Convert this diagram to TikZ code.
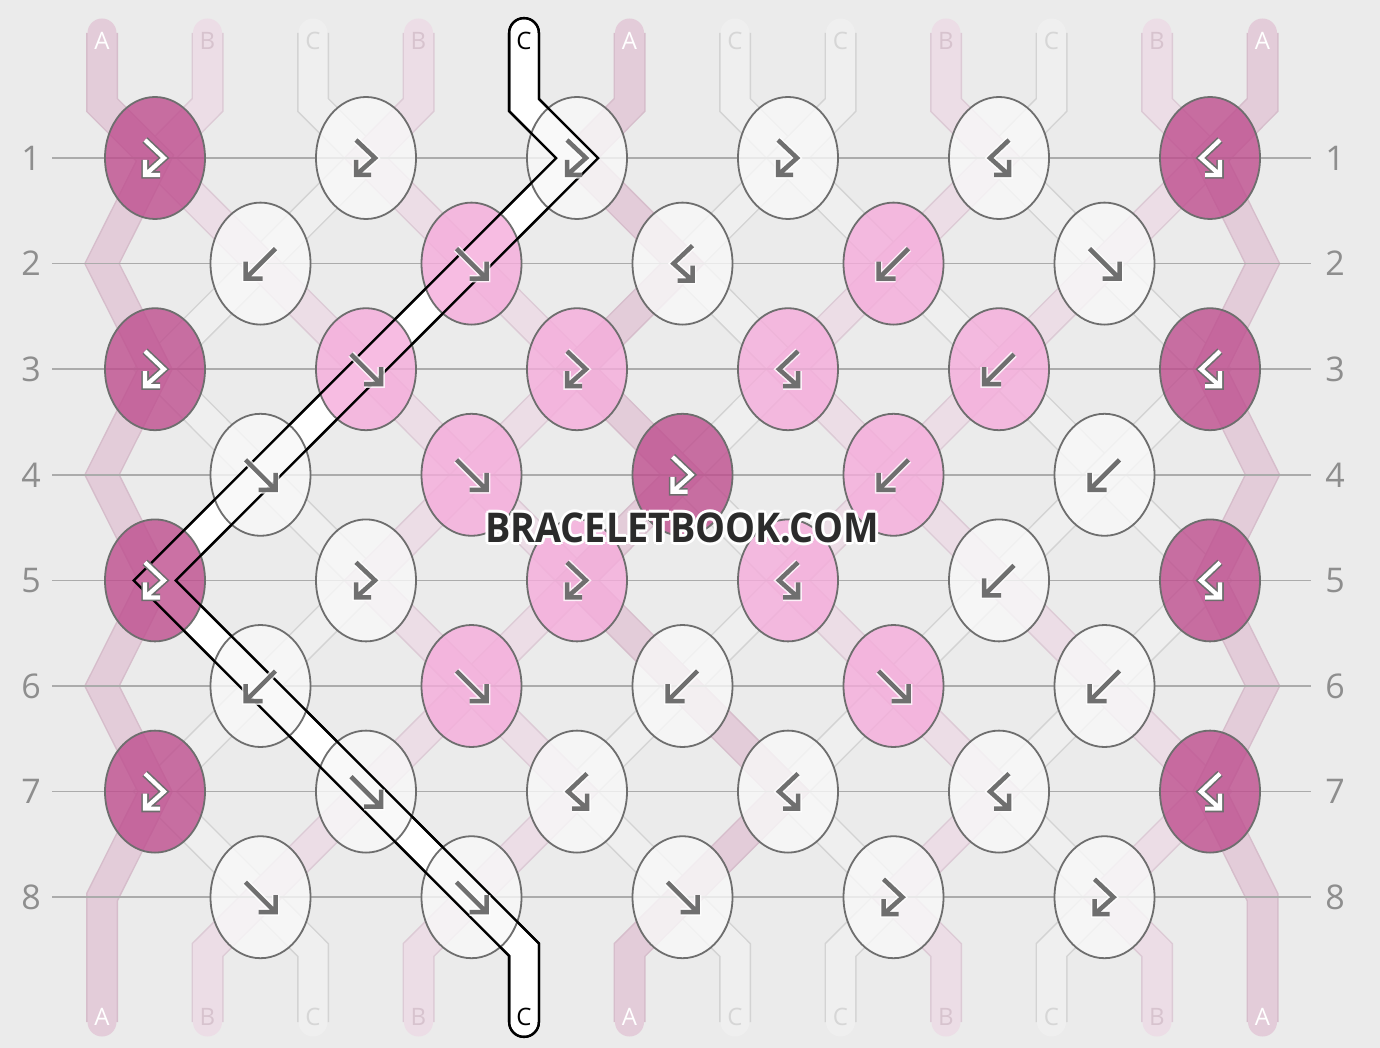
\documentclass[tikz,border=0pt]{standalone}
\usepackage{fontspec}
\setmainfont{Open Sans}
\usetikzlibrary{shapes.geometric}
\definecolor{bgc}{HTML}{EBEBEB}
\definecolor{Afill}{HTML}{E3CCD9}
\definecolor{Aline}{HTML}{D6BDCB}
\definecolor{Bfill}{HTML}{ECDDE6}
\definecolor{Bline}{HTML}{DCCAD5}
\definecolor{Cfill}{HTML}{EFEFEF}
\definecolor{Cline}{HTML}{D3D3D3}
\definecolor{kA}{HTML}{BE4E8E}
\definecolor{kB}{HTML}{F5ACDB}
\definecolor{kC}{HTML}{F8F8F8}
\definecolor{kline}{HTML}{6E6E6E}
\definecolor{arr}{HTML}{6F6F6F}
\definecolor{rowc}{HTML}{ABABAB}
\definecolor{numc}{HTML}{8E8E8E}
\definecolor{Blab}{HTML}{D7C3CE}
\definecolor{Clab}{HTML}{D6D6D6}
\definecolor{wmc}{HTML}{2B2B2B}
\newcommand\arFW[1]{\draw[#1] (-15,-15)--(15,15) (15,-2)--(15,15)--(-2,15);}
\newcommand\arBW[1]{\draw[#1] (15,-15)--(-15,15) (-15,-2)--(-15,15)--(2,15);}
\newcommand\arFB[1]{\draw[#1] (-10,-18)--(9,0)--(-10,17) (-10,2)--(-10,17)--(5,17);}
\newcommand\arBF[1]{\draw[#1] (10,-18)--(-9,0)--(10,17) (10,2)--(10,17)--(-5,17);}
% outline of the highlighted strand
\newcommand\hlpath{(509.1,1022) -- (509.1,955.87) -- (133.68,580.45) -- (556.03,158.1) -- (509.1,111.17) -- (509.1,33) arc[start angle=180,end angle=360,radius=14.9] -- (538.9,98.8) -- (598.17,158.1) -- (175.82,580.45) -- (538.9,943.5) -- (538.9,1022) arc[start angle=0,end angle=180,radius=14.9] -- cycle}
\tikzset{
 strA/.style={draw=Afill,line width=29pt,line join=miter,line cap=round,preaction={draw=Aline,line width=32pt}},
 strB/.style={draw=Bfill,line width=29pt,line join=miter,line cap=round,preaction={draw=Bline,line width=32pt}},
 strC/.style={draw=Cfill,line width=29pt,line join=miter,line cap=round,preaction={draw=Cline,line width=32pt}},
 hledge/.style={draw=black,line width=2.3pt,line join=miter},
 knot/.style={ellipse,minimum width=100pt,minimum height=122pt,inner sep=0pt,draw=kline,line width=1.8pt,fill opacity=0.8},
 arrowpen/.style={draw=arr,line width=4.5pt,line cap=butt,line join=miter},
 arrowlhalo/.style={draw=white,draw opacity=0.8,line width=7.5pt,line cap=square,line join=miter},
 arrowhalo/.style={draw=kline,line width=7.5pt,line cap=square,line join=miter},
 arrowwhite/.style={draw=white,line width=4.2pt,line cap=butt,line join=miter},
 rowline/.style={draw=rowc,line width=1.5pt},
 num/.style={text=numc,font=\fontsize{34pt}{34pt}\selectfont,inner sep=0pt},
 lab/.style={font=\fontsize{24pt}{24pt}\selectfont,inner sep=0pt},
 wm/.style={font=\fontsize{41pt}{41pt}\selectfont\bfseries,inner sep=0pt,xscale=0.92}
}
\begin{document}
\begin{tikzpicture}[x=1pt,y=-1pt]
\fill[bgc] (0,0) rectangle (1380,1048);
\useasboundingbox (0,0) rectangle (1380,1048);
% coordinates
\foreach \r/\y in {1/158,3/369.2,5/580.4,7/791.6}{
  \foreach \c in {1,...,6}{\coordinate (k\r-\c) at ({155+211*(\c-1)},\y);}
}
\foreach \r/\y in {2/263.6,4/474.8,6/686,8/897.2}{
  \foreach \c in {1,...,5}{\coordinate (k\r-\c) at ({260.5+211*(\c-1)},\y);}
  \coordinate (L\r) at (102,\y);
  \coordinate (R\r) at (1262.5,\y);
}
\foreach \s in {0,...,11}{
  \coordinate (T\s) at ({102+105.5*\s},33);
  \coordinate (Tb\s) at ({102+105.5*\s},105);
  \coordinate (Bb\s) at ({102+105.5*\s},950);
  \coordinate (B\s) at ({102+105.5*\s},1022);
}
% strands
\draw[strC] (T2)--(Tb2)--(k1-2)--(k2-1)--(k3-1)--(k4-1)--(k5-2)--(k6-1)--(k7-1)--(k8-1)--(Bb2)--(B2);
\draw[strC] (T6)--(Tb6)--(k1-4)--(k2-3)--(k3-4)--(k4-3)--(k5-4)--(k6-3)--(k7-3)--(k8-3)--(Bb6)--(B6);
\draw[strC] (T7)--(Tb7)--(k1-4)--(k2-4)--(k3-5)--(k4-5)--(k5-6)--(k6-5)--(k7-5)--(k8-5)--(Bb9)--(B9);
\draw[strC] (T9)--(Tb9)--(k1-5)--(k2-5)--(k3-6)--(k4-5)--(k5-5)--(k6-4)--(k7-4)--(k8-4)--(Bb7)--(B7);
\draw[strB] (T1)--(Tb1)--(k1-1)--(k2-1)--(k3-2)--(k4-2)--(k5-3)--(k6-2)--(k7-2)--(k8-1)--(Bb1)--(B1);
\draw[strB] (T3)--(Tb3)--(k1-2)--(k2-2)--(k3-3)--(k4-2)--(k5-2)--(k6-2)--(k7-3)--(k8-2)--(Bb3)--(B3);
\draw[strB] (T8)--(Tb8)--(k1-5)--(k2-4)--(k3-4)--(k4-4)--(k5-5)--(k6-5)--(k7-6)--(k8-5)--(Bb10)--(B10);
\draw[strB] (T10)--(Tb10)--(k1-6)--(k2-5)--(k3-5)--(k4-4)--(k5-4)--(k6-4)--(k7-5)--(k8-4)--(Bb8)--(B8);
\draw[strA] (T0)--(Tb0)--(k1-1)--(L2)--(k3-1)--(L4)--(k5-1)--(L6)--(k7-1)--(L8)--(B0);
\draw[strA] (T5)--(Tb5)--(k1-3)--(k2-3)--(k3-3)--(k4-3)--(k5-3)--(k6-3)--(k7-4)--(k8-3)--(Bb5)--(B5);
\draw[strA] (T11)--(Tb11)--(k1-6)--(R2)--(k3-6)--(R4)--(k5-6)--(R6)--(k7-6)--(R8)--(B11);
% string labels
\foreach \s/\l/\c in {0/A/white,1/B/Blab,2/C/Clab,3/B/Blab,5/A/white,6/C/Clab,7/C/Clab,8/B/Blab,9/C/Clab,10/B/Blab,11/A/white}{
  \node[lab,text=\c] (lt\s) at ({102+105.5*\s},41) {\l};
}
\foreach \s/\l/\c in {0/A/white,1/B/Blab,2/C/Clab,3/B/Blab,5/A/white,6/C/Clab,7/C/Clab,8/B/Blab,9/C/Clab,10/B/Blab,11/A/white}{
  \node[lab,text=\c] (lb\s) at ({102+105.5*\s},1017) {\l};
}
% row lines and numbers
\foreach \r/\y in {1/158,2/263.6,3/369.2,4/474.8,5/580.4,6/686,7/791.6,8/897.2}{
  \draw[rowline] (52,\y) -- (1311,\y);
  \node[num] (nl\r) at (31,\y) {\r};
  \node[num] (nr\r) at (1335,\y) {\r};
}
% highlighted strand (filled, under the knots)
\filldraw[fill=white,hledge] \hlpath;
\node[lab,text=black] (lt4) at (T4|-0,41) {C};
\node[lab,text=black] (lb4) at (T4|-0,1017) {C};
% knots
\foreach \r/\c/\col in {1/1/kA,1/2/kC,1/3/kC,1/4/kC,1/5/kC,1/6/kA,
  2/1/kC,2/2/kB,2/3/kC,2/4/kB,2/5/kC,
  3/1/kA,3/2/kB,3/3/kB,3/4/kB,3/5/kB,3/6/kA,
  4/1/kC,4/2/kB,4/3/kA,4/4/kB,4/5/kC,
  5/1/kA,5/2/kC,5/3/kB,5/4/kB,5/5/kC,5/6/kA,
  6/1/kC,6/2/kB,6/3/kC,6/4/kB,6/5/kC,
  7/1/kA,7/2/kC,7/3/kC,7/4/kC,7/5/kC,7/6/kA,
  8/1/kC,8/2/kC,8/3/kC,8/4/kC,8/5/kC}{
  \node[knot,fill=\col] (n\r-\c) at (k\r-\c) {};
}
% edges of the highlighted strand, over the knots
\draw[hledge] \hlpath;
% arrows on light knots
\foreach \r/\c/\a in {1/2/FB,1/3/FB,1/4/FB,1/5/BF,
  2/1/BW,2/2/FW,2/3/BF,2/4/BW,2/5/FW,
  3/2/FW,3/3/FB,3/4/BF,3/5/BW,
  4/1/FW,4/2/FW,4/4/BW,4/5/BW,
  5/2/FB,5/3/FB,5/4/BF,5/5/BW,
  6/1/BW,6/2/FW,6/3/BW,6/4/FW,6/5/BW,
  7/2/FW,7/3/BF,7/4/BF,7/5/BF,
  8/1/FW,8/2/FW,8/3/FW,8/4/FB,8/5/FB}{
  \begin{scope}[shift={(k\r-\c)}]\csname ar\a\endcsname{arrowlhalo}\csname ar\a\endcsname{arrowpen}\end{scope}
}
% arrows on dark knots
\foreach \r/\c/\a in {1/1/FB,1/6/BF,3/1/FB,3/6/BF,4/3/FB,5/1/FB,5/6/BF,7/1/FB,7/6/BF}{
  \begin{scope}[shift={(k\r-\c)}]\csname ar\a\endcsname{arrowhalo}\csname ar\a\endcsname{arrowwhite}\end{scope}
}
% watermark
\foreach \dx/\dy [count=\i] in {3/0,-3/0,0/3,0/-3,2/2,2/-2,-2/2,-2/-2}{
  \node[wm,text=white] (wmh\i) at ({682+\dx},{528+\dy}) {BRACELETBOOK.COM};
}
\node[wm,text=wmc] (wm) at (682,528) {BRACELETBOOK.COM};
\end{tikzpicture}
\end{document}
